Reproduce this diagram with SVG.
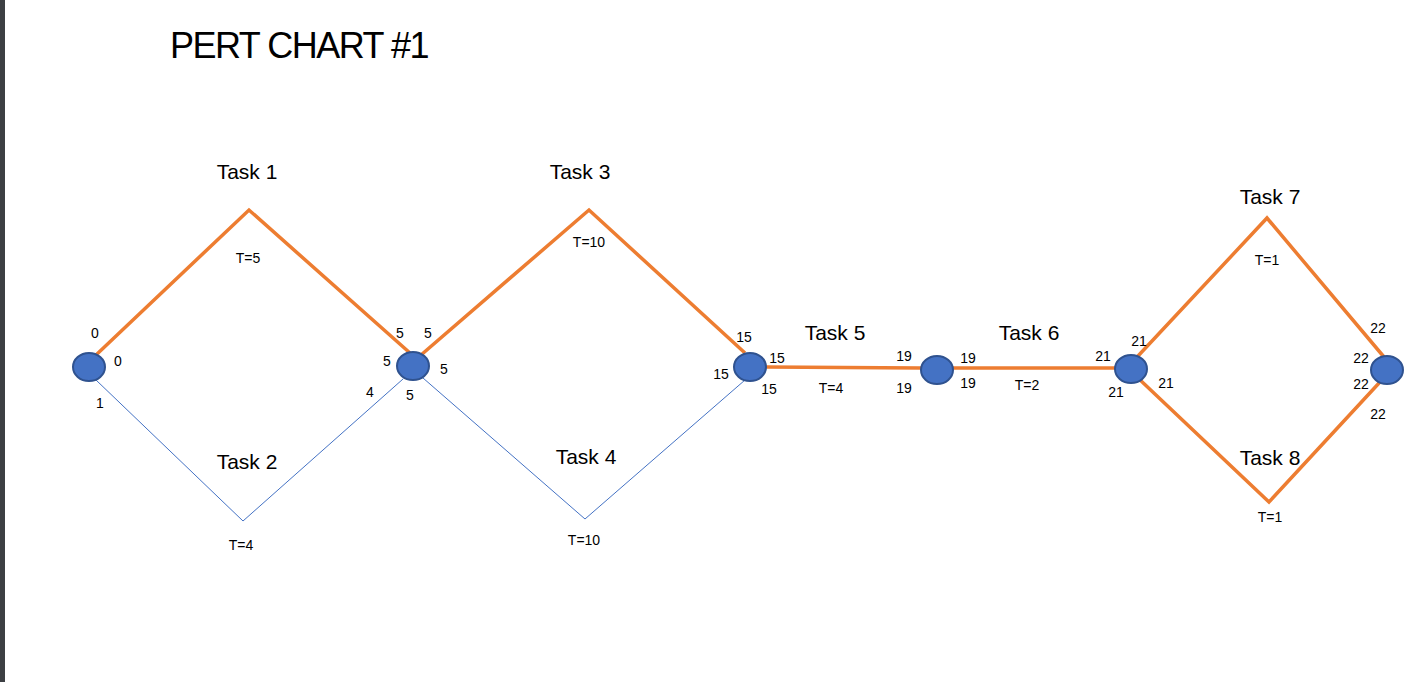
<svg xmlns="http://www.w3.org/2000/svg" width="1413" height="682" viewBox="0 0 1413 682">
<style>
.crit{fill:none;stroke:#ED7D31;stroke-width:3.5}
.non{fill:none;stroke:#4472C4;stroke-width:1}
.node{fill:#4472C4;stroke:#2F528F;stroke-width:2}
text{font-family:"Liberation Sans",Arial,sans-serif;fill:#000}
.t{font-size:21px;text-anchor:middle}
.n{font-size:14px;text-anchor:middle}
</style>
<rect width="1413" height="682" fill="#fff"/>
<rect x="0" y="0" width="5" height="682" fill="#3c3f43"/>
<text x="170" y="58" font-size="36" letter-spacing="-1.5">PERT CHART #1</text>
<g id="connectors">
<polyline class="crit" points="96,355 249,210 410,353"/>
<polyline class="non" points="96,380 243,521 403,379"/>
<polyline class="crit" points="421,355 589,210 745,353"/>
<polyline class="non" points="423,378 585,519 745,380"/>
<line class="crit" x1="766" y1="367" x2="921" y2="368"/>
<line class="crit" x1="953" y1="368" x2="1115" y2="368"/>
<polyline class="crit" points="1138,356 1267,218 1384,357"/>
<polyline class="crit" points="1138,378 1269,502 1380,382"/>
</g>
<g id="n0"><ellipse class="node" cx="89" cy="367" rx="16" ry="14"/></g>
<g id="n1"><ellipse class="node" cx="413" cy="366" rx="16" ry="14"/></g>
<g id="n2"><ellipse class="node" cx="750" cy="367" rx="16" ry="14"/></g>
<g id="n3"><ellipse class="node" cx="937" cy="370" rx="16" ry="14"/></g>
<g id="n4"><ellipse class="node" cx="1131" cy="369" rx="16" ry="14"/></g>
<g id="n5"><ellipse class="node" cx="1387" cy="370" rx="16" ry="14"/></g>
<g id="labels">
<text class="t" x="247" y="179">Task 1</text>
<text class="t" x="247" y="469">Task 2</text>
<text class="t" x="580" y="179">Task 3</text>
<text class="t" x="586" y="464">Task 4</text>
<text class="t" x="835" y="340">Task 5</text>
<text class="t" x="1029" y="340">Task 6</text>
<text class="t" x="1270" y="204">Task 7</text>
<text class="t" x="1270" y="465">Task 8</text>
<text class="n" x="248" y="263">T=5</text>
<text class="n" x="241" y="550">T=4</text>
<text class="n" x="589" y="247">T=10</text>
<text class="n" x="584" y="545">T=10</text>
<text class="n" x="831" y="393">T=4</text>
<text class="n" x="1027" y="390">T=2</text>
<text class="n" x="1267" y="265">T=1</text>
<text class="n" x="1270" y="522">T=1</text>
<text class="n" x="95" y="338">0</text>
<text class="n" x="118" y="366">0</text>
<text class="n" x="100" y="408">1</text>
<text class="n" x="400" y="338">5</text>
<text class="n" x="428" y="338">5</text>
<text class="n" x="387" y="366">5</text>
<text class="n" x="444" y="374">5</text>
<text class="n" x="370" y="397">4</text>
<text class="n" x="410" y="400">5</text>
<text class="n" x="744" y="342">15</text>
<text class="n" x="777" y="363">15</text>
<text class="n" x="721" y="379">15</text>
<text class="n" x="769" y="394">15</text>
<text class="n" x="904" y="361">19</text>
<text class="n" x="968" y="363">19</text>
<text class="n" x="904" y="393">19</text>
<text class="n" x="968" y="388">19</text>
<text class="n" x="1103" y="361">21</text>
<text class="n" x="1139" y="346">21</text>
<text class="n" x="1166" y="388">21</text>
<text class="n" x="1116" y="397">21</text>
<text class="n" x="1378" y="333">22</text>
<text class="n" x="1361" y="363">22</text>
<text class="n" x="1361" y="389">22</text>
<text class="n" x="1378" y="419">22</text>
</g>
</svg>
